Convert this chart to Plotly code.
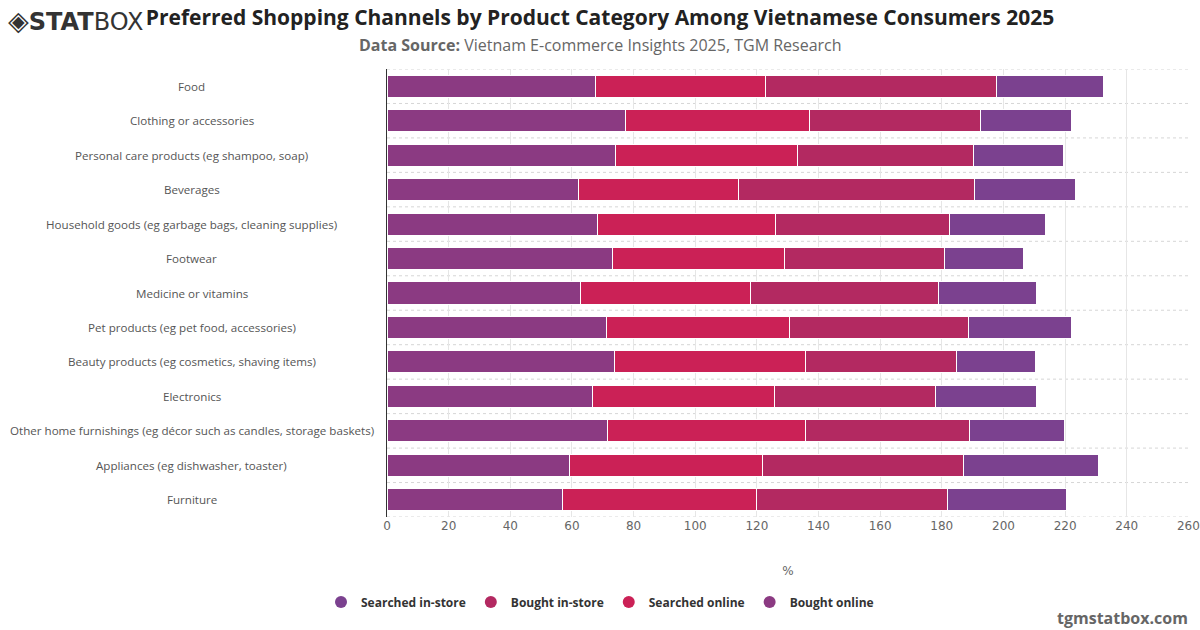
import plotly.graph_objects as go

categories = [
    "Food",
    "Clothing or accessories",
    "Personal care products (eg shampoo, soap)",
    "Beverages",
    "Household goods (eg garbage bags, cleaning supplies)",
    "Footwear",
    "Medicine or vitamins",
    "Pet products (eg pet food, accessories)",
    "Beauty products (eg cosmetics, shaving items)",
    "Electronics",
    "Other home furnishings (eg décor such as candles, storage baskets)",
    "Appliances (eg dishwasher, toaster)",
    "Furniture",
]

bought_online = [67.6, 77.3, 74.1, 62.1, 68.2, 73.1, 62.7, 71.1, 73.7, 66.6, 71.5, 59.1, 57.0]
searched_online = [55.1, 59.7, 59.0, 51.8, 57.8, 55.8, 55.1, 59.4, 62.0, 59.0, 64.2, 62.8, 62.8]
bought_instore = [75.0, 55.4, 57.1, 76.6, 56.4, 51.9, 61.0, 58.1, 49.0, 52.3, 53.2, 65.0, 61.9]
searched_instore = [34.9, 29.8, 29.4, 33.0, 31.3, 25.8, 32.0, 33.6, 25.8, 32.9, 31.0, 44.0, 38.9]

series = [
    ("Bought online", bought_online, "#8B3A82"),
    ("Searched online", searched_online, "#CB2156"),
    ("Bought in-store", bought_instore, "#B32961"),
    ("Searched in-store", searched_instore, "#7B418F"),
]
legend_order = ["Searched in-store", "Bought in-store", "Searched online", "Bought online"]

x_ticks = list(range(0, 261, 20))

W, H = 1200, 630
L, R, T, B = 387, 11, 69, 113
PW, PH = W - L - R, H - T - B


def px_x(px):
    return (px - L) / PW


def px_y(py):
    return 1 - (py - T) / PH


fig = go.Figure()
for name, vals, color in series:
    fig.add_trace(go.Bar(
        y=categories, x=vals, name=name, orientation="h",
        marker=dict(color=color, line=dict(color="white", width=1)),
        showlegend=False,
    ))

color_map = {n: c for n, _, c in series}
for name in legend_order:
    fig.add_trace(go.Scatter(
        x=[None], y=[None], mode="markers", name=name,
        marker=dict(symbol="circle", size=12, color=color_map[name]),
    ))

n = len(categories)
for i in range(n + 1):
    fig.add_shape(type="line", xref="paper", x0=0, x1=1, yref="y",
                  y0=i - 0.5, y1=i - 0.5,
                  line=dict(color="#d6d6d6", width=1, dash="dot"), layer="below")

for c in categories:
    fig.add_annotation(x=px_x(191.5), xref="paper", xanchor="center", y=c, yref="y",
                       text=c, showarrow=False,
                       font=dict(family="Open Sans", size=11.6, color="#555555"))

fig.update_layout(
    width=W, height=H,
    margin=dict(l=L, r=R, t=T, b=B, autoexpand=False),
    paper_bgcolor="white", plot_bgcolor="white",
    barmode="stack", bargap=0.36,
    font=dict(family="DejaVu Sans", color="#666666"),
    title=dict(
        text="<b>Preferred Shopping Channels by Product Category Among Vietnamese Consumers 2025</b>",
        x=0.5, xanchor="center", y=1 - 18 / H, yanchor="middle",
        font=dict(family="Open Sans", size=21, color="#222222"),
    ),
    legend=dict(orientation="h", x=px_x(600), xanchor="center", y=px_y(602), yanchor="middle",
                font=dict(family="Open Sans", size=12, color="#333333", weight="bold"),
                itemwidth=30, traceorder="normal"),
    xaxis=dict(range=[0, 260.2], tickvals=x_ticks, showgrid=True, gridcolor="#e6e6e6",
               gridwidth=1, zeroline=False, showline=False, automargin=False,
               tickfont=dict(family="DejaVu Sans", size=12, color="#666666"),
               title=dict(text="%", font=dict(family="DejaVu Sans", size=12, color="#666666"), standoff=34)),
    yaxis=dict(showticklabels=False, showgrid=False, automargin=False,
               showline=True, linecolor="#333333", linewidth=1, zeroline=False,
               range=[n - 0.5, -0.5]),
)

fig.add_annotation(x=px_x(600), xref="paper", xanchor="center", y=px_y(45), yref="paper", yanchor="middle",
                   text="<b>Data Source:</b> Vietnam E-commerce Insights 2025, TGM Research",
                   showarrow=False, font=dict(family="Open Sans", size=16, color="#666666"))

fig.add_annotation(x=px_x(6), xref="paper", xanchor="left",
                   y=px_y(20), yref="paper", yanchor="middle",
                   text="<span style='font-size:27px'>◈</span><b>STAT</b>BOX", showarrow=False,
                   font=dict(family="DejaVu Sans", size=24, color="#333333"))

fig.add_annotation(x=px_x(1190), xref="paper", xanchor="right",
                   y=px_y(618), yref="paper", yanchor="middle",
                   text="<b>tgmstatbox.com</b>", showarrow=False,
                   font=dict(family="Open Sans", size=16, color="#666666"))

fig.write_html("out.html")
